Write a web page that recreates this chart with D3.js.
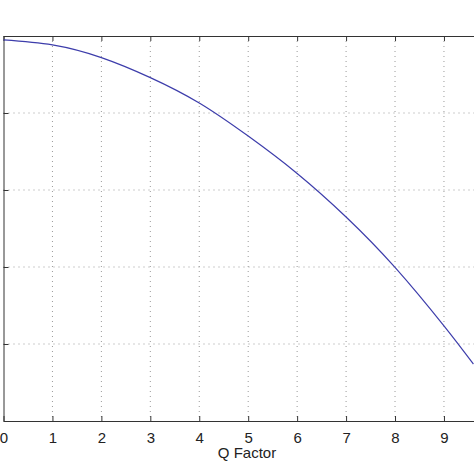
<!DOCTYPE html>
<html lang="en">
<head>
  <meta charset="utf-8">
  <script src="https://d3js.org/d3.v7.min.js"></script>
  <style>
    body { margin: 0; background: #fff; }
    svg { display: block; font-family: "Liberation Sans", Arial, Helvetica, sans-serif; }
    .grid line { stroke: #9a9a9a; stroke-width: 1; stroke-dasharray: 1,4; }
    .axis path, .axis line { stroke: #333; }
    .axis text { fill: #222; font-size: 15px; }
    .curve { fill: none; stroke: #3d3dab; stroke-width: 1.2; }
  </style>
</head>
<body>
  <svg id="chart" width="474" height="474"></svg>
  <script>
    // Q factor samples and the (normalised) value
    var qValues = [0, 1, 2, 3, 4, 5, 6, 7, 8, 9, 9.6];
    var yValues = [0.990, 0.977, 0.944, 0.892, 0.826, 0.740, 0.643, 0.530, 0.399, 0.247, 0.148];
    var xTicks = [0, 1, 2, 3, 4, 5, 6, 7, 8, 9];
    var yTicks = [0, 0.2, 0.4, 0.6, 0.8, 1];
    var xLabel = "Q Factor";

    var svg = d3.select("#chart");
    var mLeft = 3.5, mTop = 36, mBottom = 421;

    var x = d3.scaleLinear().domain([0, 10]).range([mLeft, mLeft + 489.4]);
    var y = d3.scaleLinear().domain([0, 1]).range([mBottom, mTop]);
    var mRight = x(10);

    // dotted grid
    var grid = svg.append("g").attr("class", "grid");
    grid.selectAll(".gx").data(xTicks.slice(1)).enter().append("line")
        .attr("x1", function(d) { return x(d); }).attr("x2", function(d) { return x(d); })
        .attr("y1", mTop).attr("y2", mBottom);
    grid.selectAll(".gy").data(yTicks.slice(1, -1)).enter().append("line")
        .attr("x1", mLeft).attr("x2", mRight)
        .attr("y1", function(d) { return y(d); }).attr("y2", function(d) { return y(d); });

    // axes, ticks pointing inward
    svg.append("g").attr("class", "axis")
        .attr("transform", "translate(0," + mBottom + ")")
        .call(d3.axisBottom(x).tickValues(xTicks).tickSizeInner(-5).tickSizeOuter(0).tickPadding(11))
        .call(function(g) { g.selectAll("text").attr("dy", "0.71em"); });

    svg.append("g").attr("class", "axis")
        .attr("transform", "translate(0," + mTop + ")")
        .call(d3.axisTop(x).tickValues(xTicks).tickSizeInner(-5).tickSizeOuter(0).tickFormat(""));

    svg.append("g").attr("class", "axis")
        .attr("transform", "translate(" + mLeft + ",0)")
        .call(d3.axisLeft(y).tickValues(yTicks).tickSizeInner(-5).tickSizeOuter(0).tickFormat(""));

    svg.append("text")
        .attr("x", 247).attr("y", 458)
        .attr("text-anchor", "middle")
        .attr("font-size", "15px")
        .attr("fill", "#222")
        .text(xLabel);

    var line = d3.line()
        .x(function(d) { return x(d[0]); })
        .y(function(d) { return y(d[1]); })
        .curve(d3.curveNatural);

    svg.append("path")
        .datum(d3.zip(qValues, yValues))
        .attr("class", "curve")
        .attr("d", line);
  </script>
</body>
</html>
